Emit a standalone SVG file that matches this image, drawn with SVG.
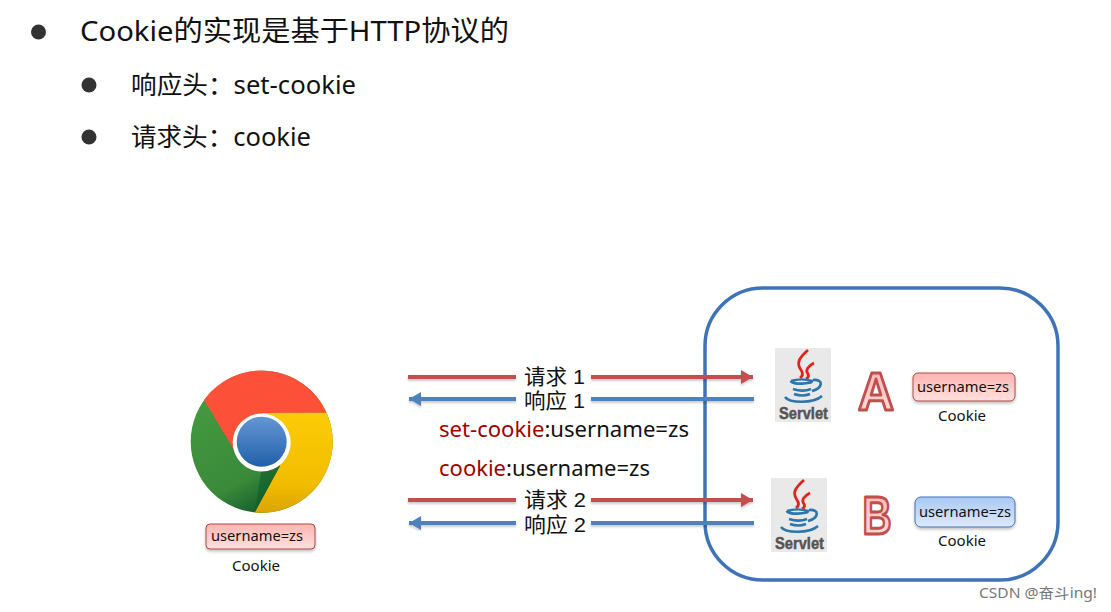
<svg xmlns="http://www.w3.org/2000/svg" width="1111" height="612" viewBox="0 0 1111 612">
<style>
text{font-family:"Noto Sans","Noto Sans CJK SC",sans-serif;fill:#111}
.h1{font-size:28px}.h2{font-size:25px}.lab{font-size:22px}
.mid{font-family:"Liberation Sans","Noto Sans CJK SC",sans-serif;font-size:21px}
.small{font-size:14.500px;text-anchor:middle}.ck{font-size:15px;text-anchor:middle}
.red{stroke:#c0504d;stroke-width:4;fill:none;marker-end:url(#ar)}
.redn{stroke:#c0504d;stroke-width:4;fill:none}
.blue{stroke:#4f81bd;stroke-width:4;fill:none;marker-end:url(#ab)}
.bluen{stroke:#4f81bd;stroke-width:4;fill:none}
.dk{fill:#a00000}
.let{font-family:"Liberation Sans",sans-serif;font-weight:700;font-size:53px;fill:url(#pink);stroke:#c0504d;stroke-width:3;text-anchor:middle;stroke-linejoin:round}
.sv{font-family:"Liberation Sans",sans-serif;font-weight:700;font-size:17px;fill:#555;stroke:#555;stroke-width:0.500;text-anchor:middle}
.steam{fill:none;stroke:#e2231a;stroke-width:2.800}
.cup{fill:none;stroke:#2b76ad;stroke-width:2.600}
</style>
<defs>
<marker id="ar" markerUnits="userSpaceOnUse" markerWidth="13" markerHeight="14" refX="12" refY="7" orient="auto"><path d="M0 0L12 7L0 14Z" fill="#c0504d"/></marker>
<marker id="ab" markerUnits="userSpaceOnUse" markerWidth="13" markerHeight="14" refX="12" refY="7" orient="auto"><path d="M0 0L12 7L0 14Z" fill="#4f81bd"/></marker>
<linearGradient id="pink" x1="0" y1="0" x2="0" y2="1"><stop offset="0" stop-color="#ffb4b0"/><stop offset="1" stop-color="#ffe0de"/></linearGradient>
<linearGradient id="bl" x1="0" y1="0" x2="0" y2="1"><stop offset="0" stop-color="#a9c8f5"/><stop offset="1" stop-color="#dde9fb"/></linearGradient>
<linearGradient id="gr" x1="0.2" y1="0.1" x2="0.7" y2="1"><stop offset="0" stop-color="#459a40"/><stop offset="0.65" stop-color="#3a8a3a"/><stop offset="1" stop-color="#064a26"/></linearGradient>
<linearGradient id="ye" x1="0.5" y1="0" x2="0.5" y2="1"><stop offset="0" stop-color="#fccb05"/><stop offset="0.7" stop-color="#f2bd00"/><stop offset="1" stop-color="#dca400"/></linearGradient>
<linearGradient id="bu" x1="0.5" y1="0" x2="0.5" y2="1"><stop offset="0" stop-color="#6397d3"/><stop offset="1" stop-color="#2260aa"/></linearGradient>
<filter id="sh" x="-10%" y="-20%" width="120%" height="150%"><feDropShadow dx="0" dy="2" stdDeviation="1.500" flood-color="#000" flood-opacity="0.25"/></filter>
<filter id="ls" x="-5%" y="-5%" width="110%" height="110%"><feDropShadow dx="0" dy="2" stdDeviation="1.200" flood-color="#000" flood-opacity="0.2"/></filter>
<g id="sv-icon">
<rect width="56" height="74" fill="#e9e9e9"/>
<path class="steam" d="M33 2C24 10 21 15 26 22C28 25 28 28 25 30M39 15C33 18 30 22 33 26C34 28 33 30 31 31"/>
<path class="cup" d="M16 33C22 31 31 31 37 33C38 36 16 37 16 33M18 41C24 43 31 43 36 41M19 46C25 48 30 48 35 46M38 32C49 31 48 40 37 43M10 49C14 55 38 56 47 48"/>
<text class="sv" x="28.500" y="71" textLength="49" lengthAdjust="spacingAndGlyphs">Servlet</text>
</g>
</defs>

<g id="bullets">
<circle cx="38.500" cy="32" r="7.500" fill="#333"/>
<text class="h1" x="80" y="41" textLength="429" lengthAdjust="spacingAndGlyphs">Cookie的实现是基于HTTP协议的</text>
<circle cx="89" cy="85" r="7.500" fill="#333"/>
<text class="h2" x="131" y="94" textLength="225" lengthAdjust="spacingAndGlyphs">响应头：set-cookie</text>
<circle cx="89" cy="137" r="7.500" fill="#333"/>
<text class="h2" x="131" y="146" textLength="180" lengthAdjust="spacingAndGlyphs">请求头：cookie</text>
</g>

<g id="server-box"><rect x="705" y="288" width="353" height="292" rx="58" ry="58" fill="none" stroke="#3f73b8" stroke-width="3.500"/></g>

<g id="browser">
<circle cx="261.700" cy="441.700" r="71" fill="url(#gr)"/>
<path d="M204 400A71 71 0 0 1 326.500 412.700L262 413L233 448Z" fill="#fd5038"/>
<path d="M326.500 412.700A71 71 0 0 1 254.700 512.500L280 466L262 413Z" fill="url(#ye)"/>
<path d="M280 466L254.700 512.500L262 466Z" fill="#0d5a2c" opacity="0.55"/>
<circle cx="261.700" cy="442.500" r="29" fill="#fff"/>
<circle cx="261.700" cy="441.700" r="25" fill="url(#bu)"/>
</g>
<g id="browser-cookie">
<rect x="206" y="524" width="109" height="25" rx="4" fill="url(#pink)" stroke="#a84a47" filter="url(#sh)"/>
<text class="small" x="257" y="541" textLength="92" lengthAdjust="spacingAndGlyphs">username=zs</text>
<text class="ck" x="256" y="571" textLength="48" lengthAdjust="spacingAndGlyphs">Cookie</text>
</g>

<g id="connectors" filter="url(#ls)">
<path class="redn" d="M408 377H516"/><path class="red" d="M591 377H753"/>
<path class="blue" d="M516 399H409"/><path class="bluen" d="M591 399H754"/>
<path class="redn" d="M408 500H516"/><path class="red" d="M591 500H753"/>
<path class="blue" d="M516 523H409"/><path class="bluen" d="M591 523H754"/>
</g>
<g id="labels">
<text class="mid" x="524" y="384" textLength="61" lengthAdjust="spacingAndGlyphs">请求 1</text>
<text class="mid" x="524" y="408" textLength="61" lengthAdjust="spacingAndGlyphs">响应 1</text>
<text class="lab" x="439" y="437" textLength="250" lengthAdjust="spacingAndGlyphs"><tspan class="dk">set-cookie</tspan>:username=zs</text>
<text class="lab" x="439" y="476" textLength="211" lengthAdjust="spacingAndGlyphs"><tspan class="dk">cookie</tspan>:username=zs</text>
<text class="mid" x="524" y="507" textLength="62" lengthAdjust="spacingAndGlyphs">请求 2</text>
<text class="mid" x="524" y="532" textLength="62" lengthAdjust="spacingAndGlyphs">响应 2</text>
</g>

<g id="servlet-a" transform="translate(775 348)"><use href="#sv-icon"/></g>
<g id="letter-a"><text class="let" x="876" y="410" textLength="36" lengthAdjust="spacingAndGlyphs">A</text></g>
<g id="cookie-a">
<rect x="913" y="373" width="102" height="28" rx="5" fill="url(#pink)" stroke="#a84a47" filter="url(#sh)"/>
<text class="small" x="963" y="392" textLength="92" lengthAdjust="spacingAndGlyphs">username=zs</text>
<text class="ck" x="962" y="421" textLength="48" lengthAdjust="spacingAndGlyphs">Cookie</text>
</g>

<g id="servlet-b" transform="translate(771 478)"><use href="#sv-icon"/></g>
<g id="letter-b"><text class="let" x="877" y="534" textLength="29" lengthAdjust="spacingAndGlyphs">B</text></g>
<g id="cookie-b">
<rect x="915" y="497" width="100" height="30" rx="6" fill="url(#bl)" stroke="#3f73b8" filter="url(#sh)"/>
<text class="small" x="965" y="517" textLength="92" lengthAdjust="spacingAndGlyphs">username=zs</text>
<text class="ck" x="962" y="546" textLength="48" lengthAdjust="spacingAndGlyphs">Cookie</text>
</g>

<g id="watermark"><text x="979" y="598" font-size="14" style="fill:#777" textLength="118" lengthAdjust="spacingAndGlyphs">CSDN @奋斗ing!</text></g>
</svg>
